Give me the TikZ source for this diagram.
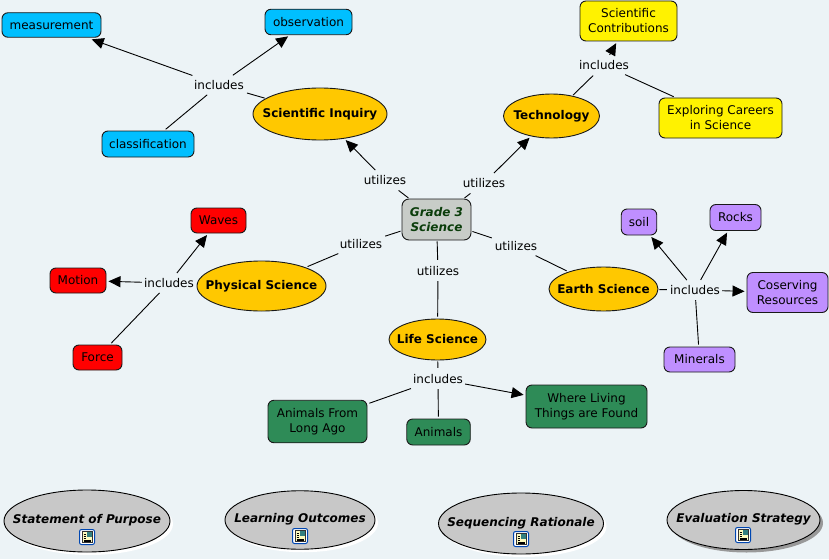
\documentclass[tikz,border=0pt]{standalone}
\usepackage{xcolor}
\usepackage{fontspec}
\setmainfont{DejaVu Sans}
\usepackage{tikz}
\usetikzlibrary{shapes.geometric, arrows.meta, shadows}

\definecolor{pagebg}{HTML}{ECF3F6}
\definecolor{inquiryblue}{HTML}{00BFFF}
\definecolor{topicgold}{HTML}{FFC800}
\definecolor{physicalred}{HTML}{FF0000}
\definecolor{lifegreen}{HTML}{2E8B57}
\definecolor{earthpurple}{HTML}{BF8FFF}
\definecolor{resourcegray}{HTML}{C8C8C8}
\definecolor{gradegray}{HTML}{C8CCC8}
\definecolor{gradetext}{HTML}{0B3D0B}

% ellipse nodes would grow around their text otherwise
\newcommand{\ovaltext}[1]{\makebox[0pt]{#1}}
\newcommand{\resourcetext}[1]{\makebox[0pt]{\raisebox{4pt}{#1}}}

\begin{document}
\begin{tikzpicture}[x=1pt, y=-1pt, font=\fontsize{12}{15}\selectfont,
    block/.style={rectangle, draw=black!90, line width=0.9pt, rounded corners=6pt, align=center, inner sep=0pt},
    topic/.style={ellipse, draw=black!90, line width=0.9pt, fill=topicgold, inner sep=0pt, font=\fontsize{12}{15}\selectfont\bfseries},
    resource/.style={ellipse, draw=black, line width=0.9pt, fill=resourcegray, inner sep=0pt, font=\fontsize{12}{15}\selectfont\bfseries\itshape},
    paleshadow/.style={drop shadow={shadow xshift=3pt, shadow yshift=-3pt, fill=white, opacity=1}},
    darkshadow/.style={drop shadow={shadow xshift=3pt, shadow yshift=-3pt, fill=gray!80, opacity=1}},
    linker/.style={inner sep=1pt, minimum height=18pt},
    link/.style={draw=black, line width=0.9pt, shorten >=2pt, shorten <=1pt},
    arrow/.style={link, -{Triangle[length=12pt,width=11pt]}},
    docicon/.pic={
        \draw[draw=blue!60!cyan!70!black, fill=white, rounded corners=2pt, line width=1pt] (-7.5,-7.5) rectangle (7.5,7.5);
        \fill[yellow!25] (-5,-5.5) rectangle (5,5.5);
        \draw[black!80, line width=0.6pt] (-5,-5.5) rectangle (5,5.5);
        \fill[teal!60!gray] (0,-5) rectangle (4.5,0);
        \foreach \liney in {-3,-1,1} \draw[black, line width=0.7pt] (-3.5,\liney) -- (-0.8,\liney);
        \foreach \liney in {3,4.5} \draw[black, line width=0.7pt] (-3.5,\liney) -- (3.5,\liney);
    }]

    \path[use as bounding box, fill=pagebg] (0,0) rectangle (829,559);

    \node [block, fill=gradegray, text=gradetext, font=\fontsize{12}{15}\selectfont\bfseries\itshape, rounded corners=7pt,
        minimum width=69pt, minimum height=41pt] (grade) at (436.5,219.5) {Grade 3\\Science};

    \node [topic, minimum width=134pt, minimum height=52pt] (inquiry) at (320,114) {\ovaltext{Scientific Inquiry}};
    \node [topic, minimum width=96pt, minimum height=44pt] (technology) at (551.5,116) {\ovaltext{Technology}};
    \node [topic, minimum width=129pt, minimum height=50pt] (physical) at (261.5,286) {\ovaltext{Physical Science}};
    \node [topic, minimum width=97pt, minimum height=41pt] (life) at (437.5,339.5) {\ovaltext{Life Science}};
    \node [topic, minimum width=109pt, minimum height=44pt] (earth) at (603.5,289) {\ovaltext{Earth Science}};

    \node [block, fill=inquiryblue, minimum width=99pt, minimum height=24.5pt] (measurement) at (51.5,25) {measurement};
    \node [block, fill=inquiryblue, minimum width=87pt, minimum height=25.5pt] (observation) at (308.5,22) {observation};
    \node [block, fill=inquiryblue, minimum width=92pt, minimum height=26pt] (classification) at (148,144) {classification};

    \node [block, fill=yellow, minimum width=97pt, minimum height=40pt] (contributions) at (628.5,21) {Scientific\\Contributions};
    \node [block, fill=yellow, minimum width=123pt, minimum height=40pt] (careers) at (720.5,118) {Exploring Careers\\in Science};

    \node [block, fill=physicalred, minimum width=55pt, minimum height=25pt] (waves) at (218.5,220.5) {Waves};
    \node [block, fill=physicalred, minimum width=56pt, minimum height=25pt] (motion) at (78,280.5) {Motion};
    \node [block, fill=physicalred, minimum width=49pt, minimum height=25pt] (force) at (97.5,357.5) {Force};

    \node [block, fill=lifegreen, minimum width=99pt, minimum height=42.5pt] (longago) at (317.5,421.5) {Animals From\\Long Ago};
    \node [block, fill=lifegreen, minimum width=63.5pt, minimum height=26pt] (animals) at (438.5,432) {Animals};
    \node [block, fill=lifegreen, minimum width=121pt, minimum height=43pt] (found) at (586.5,406.5) {Where Living\\Things are Found};

    \node [block, fill=earthpurple, minimum width=35.5pt, minimum height=26pt] (soil) at (639,222) {soil};
    \node [block, fill=earthpurple, minimum width=51pt, minimum height=26pt] (rocks) at (735.5,217.5) {Rocks};
    \node [block, fill=earthpurple, minimum width=81pt, minimum height=40pt] (coserving) at (787.5,292.5) {Coserving\\Resources};
    \node [block, fill=earthpurple, minimum width=71pt, minimum height=25pt] (minerals) at (699.5,359.5) {Minerals};

    \node [linker] (utilinquiry) at (385,180) {utilizes};
    \node [linker] (utiltech) at (484,183) {utilizes};
    \node [linker] (utilphysical) at (361,244) {utilizes};
    \node [linker] (utilearth) at (516,246) {utilizes};
    \node [linker] (utillife) at (438,271) {utilizes};

    \node [linker] (incinquiry) at (219,85) {includes};
    \node [linker] (inctech) at (604,65) {includes};
    \node [linker] (incphysical) at (169,283) {includes};
    \node [linker] (inclife) at (438,379) {includes};
    \node [linker] (incearth) at (695,290) {includes};

    \draw [link] (grade) -- (utilinquiry);
    \draw [link] (grade) -- (utiltech);
    \draw [link] (grade) -- (utilphysical);
    \draw [link] (grade) -- (utilearth);
    \draw [link] (grade) -- (utillife);
    \draw [arrow] (utilinquiry) -- (inquiry);
    \draw [arrow] (utiltech) -- (technology);
    \draw [link] (utilphysical) -- (physical);
    \draw [link] (utilearth) -- (earth);
    \draw [link] (utillife) -- (life);

    \draw [link] (inquiry) -- (incinquiry);
    \draw [arrow, shorten >=5pt] (incinquiry) -- (measurement);
    \draw [arrow] (incinquiry) -- (observation);
    \draw [link] (incinquiry) -- (classification);

    \draw [link] (technology) -- (inctech);
    \draw [arrow] (inctech) -- (contributions);
    \draw [link] (inctech) -- (careers);

    \draw [link] (physical) -- (incphysical);
    \draw [arrow] (incphysical) -- (waves);
    \draw [arrow] (incphysical) -- (motion);
    \draw [link] (incphysical) -- (force);

    \draw [link] (life) -- (inclife);
    \draw [link] (inclife) -- (longago);
    \draw [link] (inclife) -- (animals);
    \draw [arrow] (inclife) -- (found);

    \draw [link] (earth) -- (incearth);
    \draw [arrow] (incearth) -- (soil);
    \draw [arrow] (incearth) -- (rocks);
    \draw [arrow] (incearth) -- (coserving);
    \draw [link] (incearth) -- (minerals);

    \node [resource, paleshadow, minimum width=166pt, minimum height=62pt] (purpose) at (87,521) {\resourcetext{Statement of Purpose}};
    \node [resource, paleshadow, minimum width=150pt, minimum height=58.5pt] (outcomes) at (300,520) {\resourcetext{Learning Outcomes}};
    \node [resource, paleshadow, minimum width=165pt, minimum height=61pt] (rationale) at (521,523.5) {\resourcetext{Sequencing Rationale}};
    \node [resource, darkshadow, minimum width=153pt, minimum height=59pt] (strategy) at (743.5,520) {\resourcetext{Evaluation Strategy}};

    \pic at (87,537) {docicon};
    \pic at (300,536) {docicon};
    \pic at (521,539) {docicon};
    \pic at (743,535) {docicon};
\end{tikzpicture}
\end{document}
